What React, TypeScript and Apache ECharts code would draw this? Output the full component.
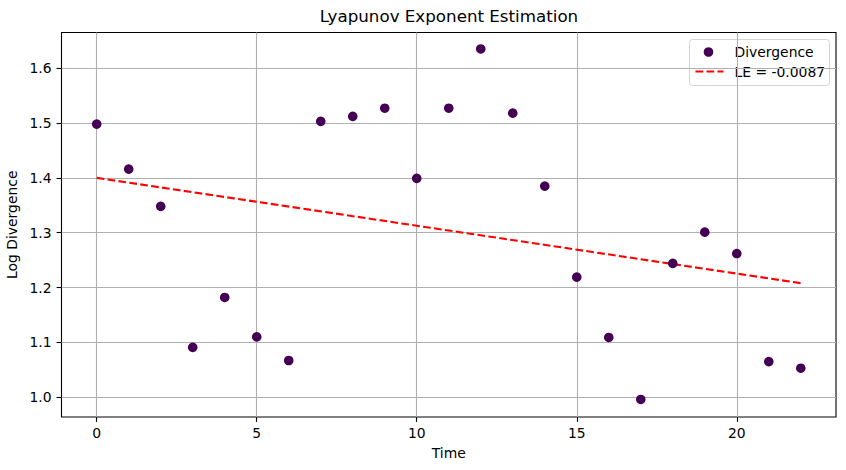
import React, { useEffect, useRef } from "react";
import * as echarts from "echarts";

const timeSteps = [0, 1, 2, 3, 4, 5, 6, 7, 8, 9, 10, 11, 12, 13, 14, 15, 16, 17, 18, 19, 20, 21, 22];
const logDivergence = [
  1.498, 1.416, 1.348, 1.091, 1.182, 1.110, 1.067, 1.503, 1.512, 1.527, 1.399, 1.527,
  1.635, 1.518, 1.385, 1.219, 1.109, 0.996, 1.244, 1.301, 1.262, 1.065, 1.053,
];
const fitTimes = [0, 22];
const fitValues = [1.4, 1.208];
const xTicks = [0, 5, 10, 15, 20];
const yTicks = [1.0, 1.1, 1.2, 1.3, 1.4, 1.5, 1.6];
const legendLabels = ["Divergence", "LE = -0.0087"];

const FONT = "DejaVu Sans";

export default function App() {
  const ref = useRef<HTMLDivElement>(null);
  useEffect(() => {
    if (!ref.current) return;
    const chart = echarts.init(ref.current, undefined, { renderer: "svg" });
    chart.setOption({
      animation: false,
      backgroundColor: "#ffffff",
      textStyle: { fontFamily: FONT },
      title: {
        text: "Lyapunov Exponent Estimation",
        left: 449,
        textAlign: "center",
        top: 7,
        padding: 0,
        textStyle: { fontFamily: FONT, fontSize: 16.7, fontWeight: "normal", color: "#000" },
      },
      grid: {
        left: 61.5,
        top: 32.5,
        right: 10,
        bottom: 53,
        outerBoundsMode: "none",
        containLabel: false,
        show: true,
        borderColor: "#000",
        borderWidth: 1.1,
        backgroundColor: "transparent",
      },
      xAxis: {
        type: "value",
        min: -1.1,
        max: 23.1,
        splitNumber: 5,
        name: "Time",
        nameLocation: "middle",
        nameGap: 29,
        nameTextStyle: { fontFamily: FONT, fontSize: 13.9, color: "#000" },
        axisLine: { show: false, onZero: false },
        axisTick: {
          show: true,
          customValues: xTicks,
          length: 4.9,
          lineStyle: { color: "#000", width: 1.1 },
        },
        axisLabel: {
          customValues: xTicks,
          margin: 9,
          fontFamily: FONT,
          fontSize: 13.9,
          color: "#000",
        },
        splitLine: { show: true, lineStyle: { color: "#b0b0b0", width: 1.1 } },
      },
      yAxis: {
        type: "value",
        min: 0.964,
        max: 1.665,
        splitNumber: 7,
        name: "Log Divergence",
        nameLocation: "middle",
        nameGap: 36,
        nameTextStyle: { fontFamily: FONT, fontSize: 13.9, color: "#000" },
        axisLine: { show: false, onZero: false },
        axisTick: {
          show: true,
          customValues: yTicks,
          length: 4.9,
          lineStyle: { color: "#000", width: 1.1 },
        },
        axisLabel: {
          customValues: yTicks,
          margin: 10,
          fontFamily: FONT,
          fontSize: 13.9,
          color: "#000",
          formatter: (v: number) => v.toFixed(1),
        },
        splitLine: { show: true, lineStyle: { color: "#b0b0b0", width: 1.1 } },
      },
      series: [
        {
          name: legendLabels[0],
          type: "scatter",
          symbol: "circle",
          symbolSize: 9.6,
          itemStyle: { color: "#440154", opacity: 1 },
          data: timeSteps.map((t, i) => [t, logDivergence[i]]),
          z: 3,
        },
        {
          name: legendLabels[1],
          type: "line",
          symbol: "none",
          lineStyle: { color: "#ff0000", width: 2.1, type: [7.7, 3.3] },
          data: fitTimes.map((t, i) => [t, fitValues[i]]),
          z: 2,
        },
      ],
      graphic: [
        {
          type: "group",
          left: 689,
          top: 39,
          z: 100,
          children: [
            {
              type: "rect",
              shape: { x: 0, y: 0, width: 140, height: 46, r: 3 },
              style: { fill: "rgba(255,255,255,0.8)", stroke: "#d5d5d5", lineWidth: 1 },
            },
            {
              type: "circle",
              shape: { cx: 19, cy: 12.5, r: 4.8 },
              style: { fill: "#440154" },
            },
            {
              type: "line",
              shape: { x1: 6, y1: 32, x2: 34, y2: 32 },
              style: { stroke: "#ff0000", lineWidth: 2.1, lineDash: [7.7, 3.3] },
            },
            {
              type: "text",
              x: 45,
              y: 12.5,
              style: {
                text: legendLabels[0],
                fontFamily: FONT,
                fontSize: 13.9,
                fill: "#000",
                verticalAlign: "middle",
              },
            },
            {
              type: "text",
              x: 45,
              y: 32.5,
              style: {
                text: legendLabels[1],
                fontFamily: FONT,
                fontSize: 13.9,
                fill: "#000",
                verticalAlign: "middle",
              },
            },
          ],
        },
      ],
    });
    return () => chart.dispose();
  }, []);
  return <div ref={ref} style={{ width: 846, height: 470, position: "absolute", left: 0, top: 0 }} />;
}
